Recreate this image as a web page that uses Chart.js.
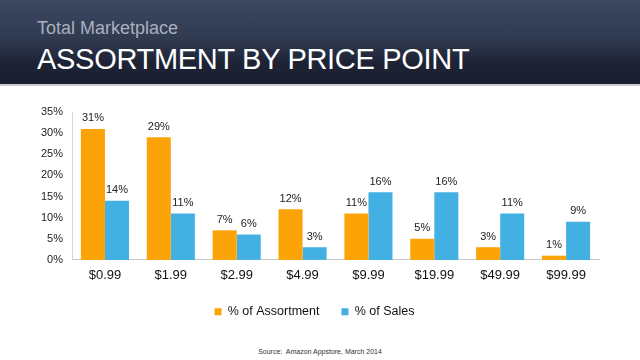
<!DOCTYPE html>
<html>
<head>
<meta charset="utf-8">
<script src="https://cdn.jsdelivr.net/npm/chart.js@4/dist/chart.umd.min.js"></script>
<style>
  html, body { margin: 0; padding: 0; background: #fff; }
  body { width: 640px; height: 360px; position: relative; overflow: hidden; font-family: "Liberation Sans", Arial, sans-serif; }
  #header {
    position: absolute; left: 0; top: 0; width: 640px; height: 84px;
    background: linear-gradient(#3c4860 0%, #303b52 45%, #1d2335 75%, #1a1f30 100%);
    border-bottom: 2px solid #c9ccd2;
  }
  #sub { position: absolute; left: 37px; top: 18px; font-size: 18px; color: #a9b0bd; }
  #title { position: absolute; left: 37px; top: 43px; font-size: 29px; color: #fff; letter-spacing: -0.3px; }
  #wrap { position: absolute; left: 0; top: 97px; width: 640px; height: 231px; }
  #source { position: absolute; left: 0; width: 640px; top: 348px; text-align: center; font-size: 7px; color: #333; }
</style>
</head>
<body>
<div id="header">
  <div id="sub">Total Marketplace</div>
  <div id="title">ASSORTMENT BY PRICE POINT</div>
</div>
<div id="wrap"><canvas id="chart"></canvas></div>
<div id="source">Source:&nbsp; Amazon Appstore, March 2014</div>
<script>
var categories = ['$0.99', '$1.99', '$2.99', '$4.99', '$9.99', '$19.99', '$49.99', '$99.99'];
var assortment = [31, 29, 7, 12, 11, 5, 3, 1];
var sales = [14, 11, 6, 3, 16, 16, 11, 9];
var seriesNames = ['% of Assortment', '% of Sales'];
var colors = ['#fca307', '#43b0e4'];

var barLabels = {
  id: 'barLabels',
  afterDatasetsDraw: function(chart) {
    var ctx = chart.ctx;
    ctx.save();
    ctx.font = '11px "Liberation Sans", Arial, sans-serif';
    ctx.fillStyle = '#222';
    ctx.textAlign = 'center';
    ctx.textBaseline = 'bottom';
    chart.data.datasets.forEach(function(ds, i) {
      chart.getDatasetMeta(i).data.forEach(function(bar, j) {
        ctx.fillText(ds.data[j] + '%', bar.x, bar.y - 5);
      });
    });
    ctx.restore();
  }
};

var ctx = document.getElementById('chart').getContext('2d');
var newChart = new Chart(ctx, {
  type: 'bar',
  data: {
    labels: categories,
    datasets: [
      { label: seriesNames[0], data: assortment, backgroundColor: colors[0] },
      { label: seriesNames[1], data: sales, backgroundColor: colors[1] }
    ]
  },
  options: {
    responsive: true,
    maintainAspectRatio: false,
    animation: false,
    layout: { padding: { top: 15, right: 41, left: 30, bottom: 0 } },
    datasets: { bar: { categoryPercentage: 0.73, barPercentage: 1.0 } },
    plugins: {
      legend: {
        position: 'bottom',
        labels: {
          boxWidth: 7, boxHeight: 7, padding: 22,
          color: '#111',
          font: { family: '"Liberation Sans", Arial, sans-serif', size: 12.5 }
        }
      },
      tooltip: { enabled: false }
    },
    scales: {
      x: {
        grid: { display: false },
        border: { color: '#c8c8c8', width: 1 },
        ticks: { color: '#111', padding: 0, font: { family: '"Liberation Sans", Arial, sans-serif', size: 13 } }
      },
      y: {
        min: 0, max: 35,
        grid: { display: false },
        border: { color: '#d8d8d8', width: 1 },
        afterFit: function(scale) { scale.width = 42; },
        ticks: {
          stepSize: 5, color: '#222', padding: 1,
          font: { family: '"Liberation Sans", Arial, sans-serif', size: 11 },
          callback: function(v) { return v + '%'; }
        }
      }
    }
  },
  plugins: [barLabels]
});
</script>
</body>
</html>
